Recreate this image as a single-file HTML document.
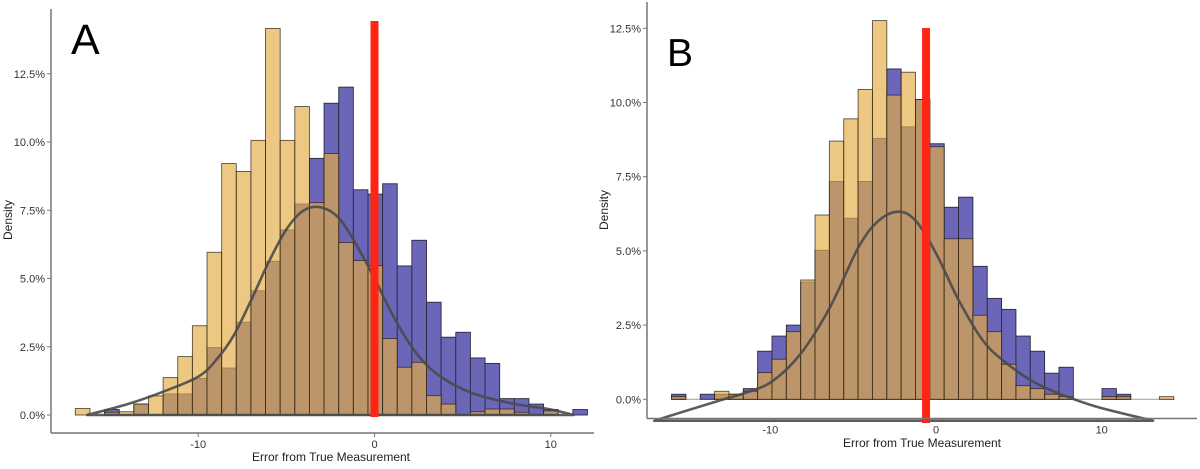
<!DOCTYPE html>
<html><head><meta charset="utf-8"><style>
html,body{margin:0;padding:0;background:#fff;}
svg text{font-family:"Liberation Sans",Arial,sans-serif;}
</style></head><body>
<svg id="chart" width="1200" height="464" viewBox="0 0 1200 464" xmlns="http://www.w3.org/2000/svg"></svg>
<script>
// ---- Panel A data ----
const aFirstEdge = -16.97;
const aBinWidth = 0.83;
const aYellow = [0.24,0,0.1,0.12,0.4,0.7,1.37,2.14,3.27,5.96,9.21,8.92,10.06,14.16,10.06,11.30,7.78,9.58,6.32,5.66,5.47,2.80,1.75,1.93,0.71,0.40,0,0.12,0.22,0.22,0.1,0,0.15,0,0];
const aBlue   = [0,0,0.2,0,0.4,0,0.77,0.77,1.34,2.47,1.72,3.40,4.55,5.63,6.78,7.73,9.40,11.42,12.01,8.25,8.09,8.47,5.46,6.40,4.13,2.85,3.03,2.09,1.89,0.6,0.6,0.4,0.2,0,0.2];
const aCurveX = [-16.3,-14,-12,-10,-9,-8,-7,-6,-5,-4,-3,-2,-1,0,1,2,3,4,5,6,8,10,11.3];
const aCurveY = [0,0.4,0.85,1.4,2.0,2.9,4.2,5.6,6.8,7.5,7.6,7.2,6.2,5.0,3.7,2.6,1.8,1.3,0.95,0.7,0.4,0.2,0];
const aRef = 0;
// ---- Panel B data ----
const bFirstEdge = -15.96;
const bBinWidth = 0.866;
const bYellow = [0.09,0,0,0.27,0.17,0.27,0.9,1.35,2.28,4.02,6.21,8.70,9.45,10.44,12.76,10.25,11.02,10.10,8.51,5.41,5.41,2.83,2.28,1.18,0.46,0.36,0.17,0.09,0,0,0.09,0.09,0,0,0.09];
const bBlue   = [0.17,0,0.17,0.17,0.17,0.36,1.62,2.13,2.5,3.95,5.02,7.34,6.10,7.34,8.79,11.13,9.18,10.1,8.61,6.47,6.81,4.48,3.40,3.03,2.13,1.62,0.88,1.08,0,0,0.36,0.17,0,0,0];
const bCurveX = [-17,-13.3,-11.6,-9.9,-8.15,-6.4,-4.7,-3.5,-2.26,-1.2,0,1.36,2.8,4,5.7,7.4,9.7,13.1];
const bCurveY = [-0.72,-0.08,0.2,0.6,1.55,3.1,5.1,6.0,6.32,6.0,4.92,3.35,2.0,1.33,0.65,0.2,-0.25,-0.72];
const bRef = -0.6;
const yTicks = [0,2.5,5,7.5,10,12.5];
const yTickLabels = ["0.0%","2.5%","5.0%","7.5%","10.0%","12.5%"];
const xTicks = [-10,0,10];
const xTickLabels = ["-10","0","10"];

const NS = "http://www.w3.org/2000/svg";
const svg = document.getElementById("chart");
function mk(tag, attrs, parent){
  const e = document.createElementNS(NS, tag);
  for (const k in attrs) e.setAttribute(k, attrs[k]);
  (parent||svg).appendChild(e);
  return e;
}
function smoothPath(pts){
  let d = "M" + pts[0][0].toFixed(1) + "," + pts[0][1].toFixed(1);
  for (let i=0;i<pts.length-1;i++){
    const p0 = pts[Math.max(i-1,0)], p1 = pts[i], p2 = pts[i+1], p3 = pts[Math.min(i+2,pts.length-1)];
    const c1x = p1[0]+(p2[0]-p0[0])/6, c1y = p1[1]+(p2[1]-p0[1])/6;
    const c2x = p2[0]-(p3[0]-p1[0])/6, c2y = p2[1]-(p3[1]-p1[1])/6;
    d += "C"+c1x.toFixed(1)+","+c1y.toFixed(1)+" "+c2x.toFixed(1)+","+c2y.toFixed(1)+" "+p2[0].toFixed(1)+","+p2[1].toFixed(1);
  }
  return d;
}

function panel(cfg){
  const g = mk("g", {});
  
  
  const X = v => cfg.x0 + cfg.xs * v;
  const Y = v => cfg.y0 - cfg.ys * v;
  if (cfg.histBase) {
    const bl = mk("line", {x1:X(cfg.firstEdge), x2:X(cfg.histBaseEnd), y1:Y(0), y2:Y(0), stroke:"#aaa", "stroke-width":1.2}, g);
    
    
  }
  cfg.blue.forEach((v,i)=>{
    if (v<=0) return;
    const x = X(cfg.firstEdge + i*cfg.bw), w = X(cfg.firstEdge+(i+1)*cfg.bw) - x;
    const r = mk("rect", {x:x, y:Y(v), width:w, height:Y(0)-Y(v), fill:"#6B66B8", stroke:"#2a2a40", "stroke-width":0.9}, g);
    
    
  });
  cfg.yellow.forEach((v,i)=>{
    if (v<=0) return;
    const x = X(cfg.firstEdge + i*cfg.bw), w = X(cfg.firstEdge+(i+1)*cfg.bw) - x;
    const r = mk("rect", {x:x, y:Y(v), width:w, height:Y(0)-Y(v), fill:"rgba(228,173,68,0.67)", stroke:"rgba(40,30,20,0.75)", "stroke-width":0.9}, g);
    
    
  });
  const pts = cfg.cx.map((v,i)=>[X(v), Y(cfg.cy[i])]);
  const d = smoothPath(pts) + "Z";
  const c = mk("path", {d:d, fill:"none", stroke:"#4a4a4a", "stroke-width":2.6, "stroke-opacity":0.9, "stroke-linejoin":"round"}, g);
  
  
  const red = mk("rect", {x:X(cfg.ref)-4, y:cfg.redTop, width:8, height:cfg.redBot-cfg.redTop, fill:"#FF2414"}, g);
  
  
  const ya = mk("line", {x1:cfg.axX, x2:cfg.axX, y1:cfg.axTop, y2:cfg.axY, stroke:"#777", "stroke-width":1.5}, g);
  
  
  const xa = mk("line", {x1:cfg.axX, x2:cfg.axRight, y1:cfg.axY, y2:cfg.axY, stroke:"#777", "stroke-width":1.5}, g);
  
  
  yTicks.forEach((t,i)=>{
    mk("line", {x1:cfg.axX-4, x2:cfg.axX, y1:Y(t), y2:Y(t), stroke:"#777"}, g);
    const tx = mk("text", {x:cfg.axX-6, y:Y(t)+4, "text-anchor":"end", "font-size":11, fill:"#333"}, g);
    tx.textContent = yTickLabels[i];
    
    
  });
  xTicks.forEach((t,i)=>{
    mk("line", {x1:X(t), x2:X(t), y1:cfg.axY, y2:cfg.axY+4, stroke:"#777"}, g);
    const tx = mk("text", {x:X(t), y:cfg.axY+15, "text-anchor":"middle", "font-size":11, fill:"#333"}, g);
    tx.textContent = xTickLabels[i];
    
    
  });
  const xt = mk("text", {x:cfg.xTitleX, y:cfg.xTitleY, "text-anchor":"middle", "font-size":12, fill:"#222"}, g);
  xt.textContent = "Error from True Measurement";
  
  
  const yt = mk("text", {x:0, y:0, "text-anchor":"middle", "font-size":12, fill:"#222", transform:"translate("+cfg.yTitleX+","+cfg.yTitleY+") rotate(-90)"}, g);
  yt.textContent = "Density";
  
  
  const pl = mk("text", {x:cfg.lblX, y:cfg.lblY, "font-size":cfg.lblSize, fill:"#000"}, g);
  pl.textContent = cfg.label;
  
  
}

panel({name:"panel-a", x0:374.5, xs:17.63, y0:415, ys:27.3,
  firstEdge:aFirstEdge, bw:aBinWidth, yellow:aYellow, blue:aBlue, cx:aCurveX, cy:aCurveY, ref:aRef,
  redTop:21, redBot:417, axX:51, axTop:9, axY:433, axRight:594,
  xTitleX:331, xTitleY:461, yTitleX:12, yTitleY:220, label:"A", lblX:71, lblY:54, lblSize:43, histBase:false});
panel({name:"panel-b", x0:936, xs:16.57, y0:399.3, ys:29.68,
  firstEdge:bFirstEdge, bw:bBinWidth, yellow:bYellow, blue:bBlue, cx:bCurveX, cy:bCurveY, ref:bRef,
  redTop:28, redBot:423, axX:647, axTop:2, axY:418.5, axRight:1197,
  xTitleX:922, xTitleY:447, yTitleX:608, yTitleY:210, label:"B", lblX:667, lblY:66, lblSize:39, histBase:true, histBaseEnd:14.4});
</script>
</body></html>
